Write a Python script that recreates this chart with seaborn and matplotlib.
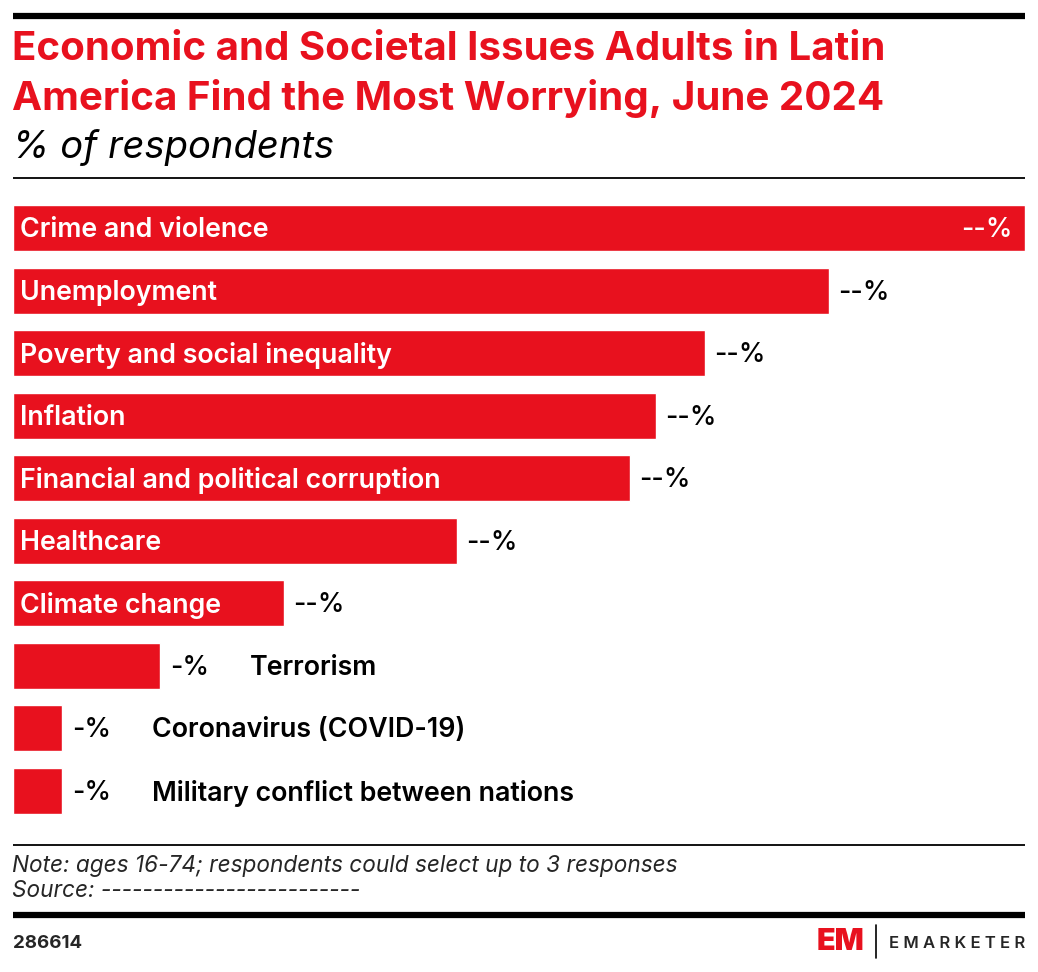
import matplotlib.pyplot as plt
import seaborn as sns
from matplotlib.lines import Line2D

# Data
categories = ["Crime and violence", "Unemployment", "Poverty and social inequality",
              "Inflation", "Financial and political corruption", "Healthcare",
              "Climate change", "Terrorism", "Coronavirus (COVID-19)",
              "Military conflict between nations"]
values = [62, 50, 42.4, 39.4, 37.8, 27.2, 16.6, 9, 3, 3]
value_labels = ["--%", "--%", "--%", "--%", "--%", "--%", "--%", "-%", "-%", "-%"]

RED = "#E8111E"
W, H = 1038, 972
FS = 19.3

sns.set_theme(style="white")
plt.rcParams['font.family'] = ['Inter', 'DejaVu Sans']

fig = plt.figure(figsize=(W / 100, H / 100), dpi=100)
fig.patch.set_facecolor("white")

def fx(px):
    return px / W

def fy(py):
    return 1 - py / H

# bars
ax = fig.add_axes([fx(13), fy(822.3), fx(1025) - fx(13), fy(196.7) - fy(822.3)])
sns.barplot(x=values, y=categories, orient="h", color=RED, width=0.735,
            saturation=1, ax=ax)
ax.set_xlim(0, max(values))
ax.set_ylim(len(categories) - 0.5, -0.5)
ax.axis("off")

for i, (cat, v, lab) in enumerate(zip(categories, values, value_labels)):
    if v >= 15:
        ax.annotate(cat, (0, i), xytext=(7, -2), textcoords="offset pixels",
                    ha="left", va="center", color="white", fontsize=FS,
                    fontweight="semibold")
        if i == 0:
            ax.annotate(lab, (v, i), xytext=(-12, -2), textcoords="offset pixels",
                        ha="right", va="center", color="white", fontsize=FS,
                        fontweight="medium")
        else:
            ax.annotate(lab, (v, i), xytext=(9, -2), textcoords="offset pixels",
                        ha="left", va="center", color="black", fontsize=FS,
                        fontweight="medium")
    else:
        ax.annotate(lab, (v, i), xytext=(10, -2), textcoords="offset pixels",
                    ha="left", va="center", color="black", fontsize=FS,
                    fontweight="medium")
        ax.annotate(cat, (v, i), xytext=(90, -2), textcoords="offset pixels",
                    ha="left", va="center", color="black", fontsize=FS,
                    fontweight="semibold")

# rules
def hline(py, lw):
    fig.add_artist(Line2D([fx(13), fx(1025)], [fy(py), fy(py)], color="black",
                          linewidth=lw, solid_capstyle="butt"))

hline(16, 4.5)
hline(178, 1.3)
hline(845, 1.3)
hline(915, 4.5)

# title
fig.text(fx(12), fy(50), "Economic and Societal Issues Adults in Latin",
         color=RED, fontsize=29, fontweight="bold", ha="left", va="center")
fig.text(fx(12), fy(98), "America Find the Most Worrying, June 2024",
         color=RED, fontsize=29, fontweight="bold", ha="left", va="center")
fig.text(fx(12), fy(148), "% of respondents", color="black", fontsize=27.5,
         fontstyle="italic", ha="left", va="center")

# footer
fig.text(fx(12), fy(866), "Note: ages 16-74; respondents could select up to 3 responses",
         fontsize=16.3, fontstyle="italic", ha="left", va="center")
fig.text(fx(12), fy(891), "Source: -------------------------",
         fontsize=16.3, fontstyle="italic", ha="left", va="center")
fig.text(fx(13), fy(943), "286614", fontsize=13.5, fontweight="bold",
         ha="left", va="center")

# logo
fig.text(fx(840), fy(942), "EM", color=RED, fontsize=22, fontweight="black",
         ha="center", va="center")
fig.add_artist(Line2D([fx(876), fx(876)], [fy(925), fy(958)], color="black", linewidth=1.2))
fig.text(fx(1025), fy(943), "E M A R K E T E R", fontsize=12, fontweight="semibold",
         ha="right", va="center")

fig.savefig("out.png", dpi=100, facecolor="white")
